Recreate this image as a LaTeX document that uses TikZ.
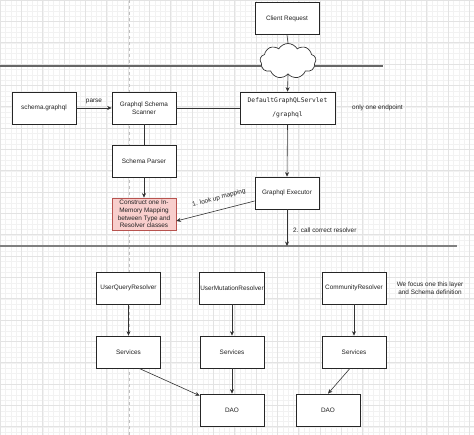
\documentclass[tikz,border=0pt]{standalone}
\usepackage{fontspec}
\setmainfont{Liberation Sans}
\newfontfamily\monofont{DejaVu Sans Mono}
\usetikzlibrary{arrows.meta,shapes.symbols}
\definecolor{txt}{HTML}{222222}
\definecolor{pinkfill}{HTML}{F8CECC}
\definecolor{pinkdraw}{HTML}{B85450}
\tikzset{
  box/.style={draw=black!85, line width=0.7pt, fill=white, minimum width=64pt, minimum height=32pt, inner sep=1pt, align=center, text=txt, font=\fontsize{6.4}{7.6}\selectfont},
  conn/.style={draw=black!80, line width=0.6pt},
  arr/.style={conn, -{Stealth[length=4.5pt,width=4pt]}},
  lbl/.style={text=txt, font=\fontsize{6.4}{7.6}\selectfont, inner sep=0pt},
  divider/.style={draw=black!60, line width=1.2pt}
}
\begin{document}
\begin{tikzpicture}[x=1pt,y=-1pt]
\useasboundingbox (0,0) rectangle (474,435);
\fill[white] (0,0) rectangle (474,435);
% grid
\draw[black!5, line width=0.3pt, step=5.3333pt] (0,0) grid (474,435);
\draw[black!11, line width=0.4pt, step=21.3333pt] (0,0) grid (474,435);
% page break dashed line
\draw[black!25, dashed, line width=0.5pt] (129,0) -- (129,435);

% dividers
\draw[divider] (0,66) -- (383,66);
\draw[divider, draw=black!50, line width=1.6pt] (0,246) -- (457,246);

% top nodes
\node[box] (client) at (287,18.5) {Client Request};
\node[cloud, cloud puffs=9, cloud puff arc=120, aspect=1.6, draw=black!80, line width=0.7pt, fill=white, minimum width=56pt, minimum height=35pt, inner sep=0pt] (cloud) at (288,61) {};
\node[box] (schema) at (44,108) {schema.graphql};
\node[box] (scanner) at (144,108) {Graphql Schema\\Scanner};
\node[box, minimum width=95pt, font=\monofont\fontsize{6.3}{7.6}\selectfont] (servlet) at (287.5,108) {DefaultGraphQLServlet\\[6.4pt]/graphql};
\node[lbl, anchor=west] (endpoint) at (352,108) {only one endpoint};
\node[box] (parser) at (144,161) {Schema Parser};
\node[box, fill=pinkfill, draw=pinkdraw] (construct) at (144,214) {Construct one In-\\Memory Mapping\\between Type and\\Resolver classes};
\node[box] (executor) at (287,193) {Graphql Executor};
\coordinate (layer) at (287,246);

% bottom nodes
\node[box] (uqr) at (128.5,288) {UserQueryResolver};
\node[box] (umr) at (232,288) {UserMutationResolver};
\node[box] (cr) at (354,288) {CommunityResolver};
\node[lbl, align=center] (focus) at (430,288.5) {We focus one this layer\\and Schema definition};
\node[box] (s1) at (128.5,352) {Services};
\node[box] (s2) at (232,352) {Services};
\node[box] (s3) at (354,352) {Services};
\node[box] (d1) at (232,410) {DAO};
\node[box] (d2) at (328,410) {DAO};

% connectors
\draw[conn] (client.south) -- (cloud.north);
\draw[arr] (cloud.south) -- (servlet.north);
\draw[arr] (schema.east) -- node[lbl, above=4pt] (parselbl) {parse} (scanner.west);
\draw[conn] (scanner.east) -- (servlet.west);
\draw[conn] (scanner.south) -- (parser.north);
\draw[arr] (parser.south) -- (construct.north);
\draw[arr] (servlet.south) -- (executor.north);
\draw[arr] ([yshift=-8pt]executor.west) -- ([yshift=-7pt]construct.east);
\node[lbl, rotate=14.4] (lookup) at (219,198) {1. look up mapping};
\draw[arr] (executor.south) -- (layer);
\node[lbl, anchor=west] (call) at (293,230) {2. call correct resolver};

\draw[arr] (uqr.south) -- (s1.north);
\draw[arr] (umr.south) -- (s2.north);
\draw[arr] (cr.south) -- (s3.north);
\draw[arr] ([xshift=10.5pt]s1.south) -- ([yshift=-2pt]d1.north west);
\draw[arr] (s2.south) -- (d1.north);
\draw[arr] ([xshift=-4pt]s3.south) -- (d2.north);
\end{tikzpicture}
\end{document}
